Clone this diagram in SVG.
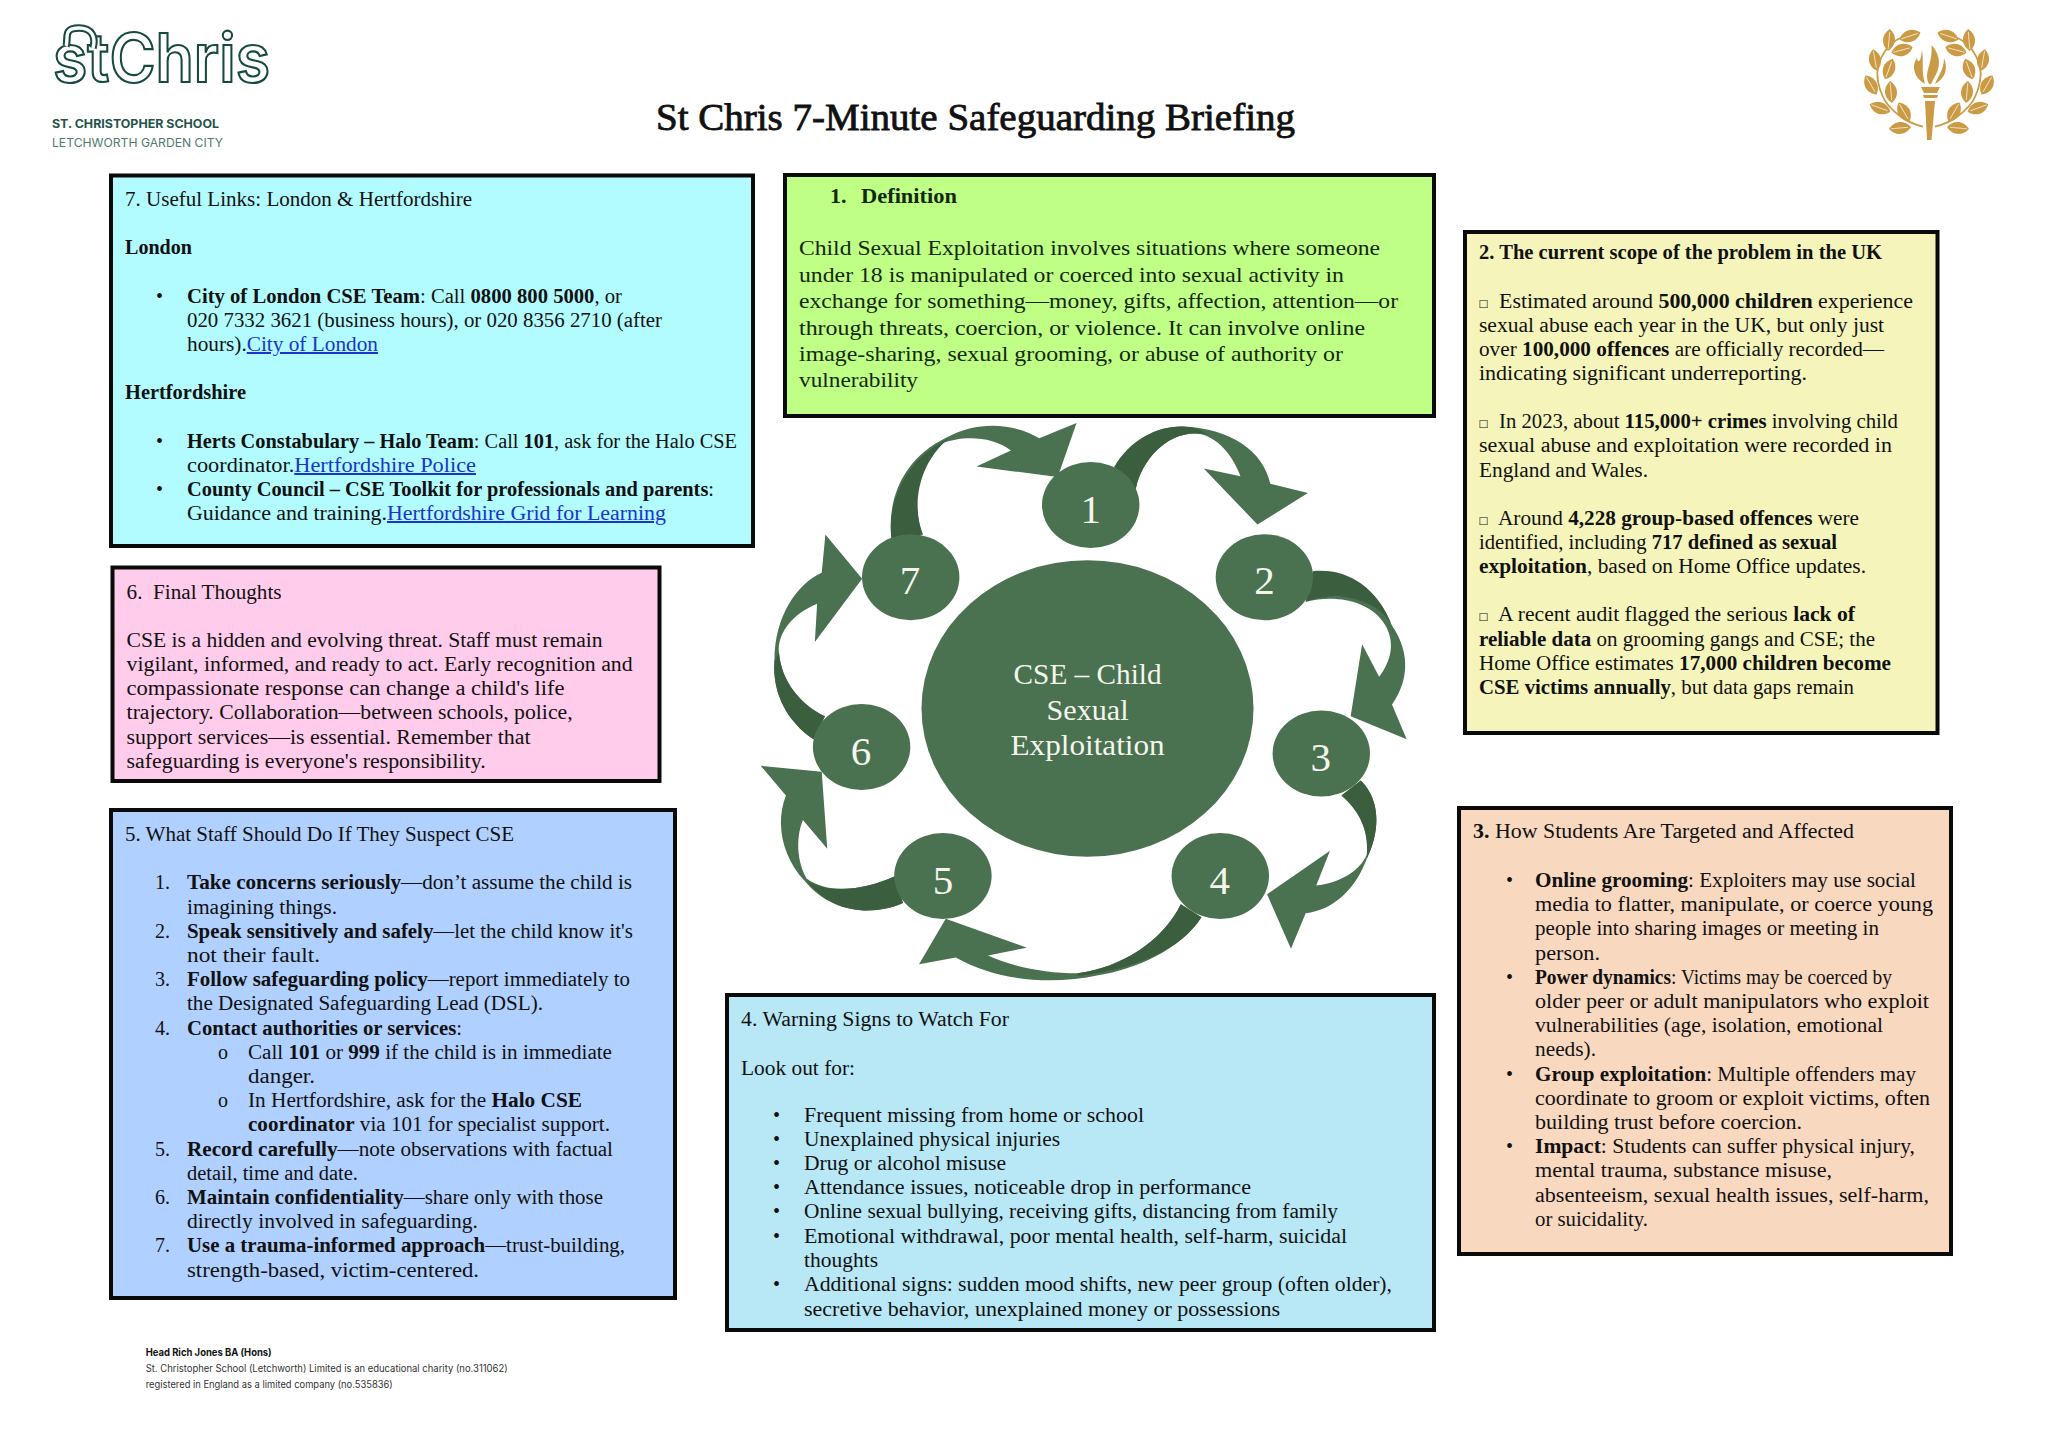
<svg xmlns="http://www.w3.org/2000/svg" xmlns:xlink="http://www.w3.org/1999/xlink" width="2048" height="1447" viewBox="0 0 2048 1447">
<style>
text{font-family:"Liberation Serif",serif;fill:#111}
.t{font-size:20px}
.d{font-size:22px;fill:#14280f}
.b{font-weight:bold}
.l{fill:#1a35c9;text-decoration:underline}
.box{stroke:#0a0a0a;stroke-width:4}
.arrow{fill:#4a7150}
.shade{fill:#3b5f3e}
.node{fill:#4a7150}
.num{font-size:41px;fill:#f4f6ee;text-anchor:middle}
.ctr{font-size:29px;fill:#f4f6ee;text-anchor:middle}
.sans{font-family:Inter,"Liberation Sans",sans-serif}
.gold{fill:#cb9a45}
.tofu{font-family:"DejaVu Sans",sans-serif;font-size:10.5px}
</style>
<defs>
<g id="leaf"><path class="gold" d="M-11,0 C-5,-8 5,-8 11,0 C5,8 -5,8 -11,0Z"/><path d="M-9,0 L8,0" stroke="#f7ecd6" stroke-width="0.8" fill="none"/></g>
<g id="branch">
<path d="M1923,126.7 C1912,124 1905,120 1900,116 C1892,110 1886,104 1883,97 C1878,86 1876,77 1878,67 C1880,58 1884,52 1888,47 C1892,43 1897,39 1903,37" fill="none" stroke="#cb9a45" stroke-width="1.8"/>
<use xlink:href="#leaf" href="#leaf" transform="translate(1889,40) rotate(-85)"/>
<use xlink:href="#leaf" href="#leaf" transform="translate(1910,36) rotate(-18)"/>
<use xlink:href="#leaf" href="#leaf" transform="translate(1902,50) rotate(-15)"/>
<use xlink:href="#leaf" href="#leaf" transform="translate(1875,60) rotate(80)"/>
<use xlink:href="#leaf" href="#leaf" transform="translate(1889,69) rotate(-70)"/>
<use xlink:href="#leaf" href="#leaf" transform="translate(1871,85) rotate(60)"/>
<use xlink:href="#leaf" href="#leaf" transform="translate(1891,92) rotate(85)"/>
<use xlink:href="#leaf" href="#leaf" transform="translate(1880,108) rotate(20)"/>
<use xlink:href="#leaf" href="#leaf" transform="translate(1904,112) rotate(60)"/>
<use xlink:href="#leaf" href="#leaf" transform="translate(1900,128) rotate(-5)"/>
</g>
</defs>
<rect width="2048" height="1447" fill="#fff"/>

<g id="logo">
<text class="sans" x="53" y="82" font-size="67" font-weight="600" textLength="217" lengthAdjust="spacingAndGlyphs" style="fill:#fff;stroke:#16493f;stroke-width:2.2">stChris</text>
<path d="M66,46 C69,39 62,28 79,28 C92,28 96,37 93,48" fill="none" stroke="#16493f" stroke-width="7.5"/>
<path d="M66,46 C69,39 62,28 79,28 C92,28 96,37 93,48" fill="none" stroke="#fff" stroke-width="3.4"/>
<text class="sans b" x="52" y="128" font-size="11.5" textLength="167" lengthAdjust="spacingAndGlyphs" style="fill:#24524a">ST. CHRISTOPHER SCHOOL</text>
<text class="sans" x="52" y="147" font-size="11.5" textLength="171" lengthAdjust="spacingAndGlyphs" style="fill:#4f7a6e">LETCHWORTH GARDEN CITY</text>
</g>

<g id="crest">
<use xlink:href="#branch" href="#branch"/>
<use xlink:href="#branch" href="#branch" transform="translate(3858,0) scale(-1,1)"/>
<path class="gold" d="M1925,84 C1914,78 1911,66 1917,58 C1918,64 1921,62 1922,50 C1924,60 1921,70 1925,84Z"/>
<path class="gold" d="M1929,84 C1923,72 1933,65 1931.5,45 C1941,55 1941,68 1934,78 L1931,84Z"/>
<path class="gold" d="M1935,84 C1938,76 1944,70 1944,58 C1948,68 1946,78 1935,84Z"/>
<path class="gold" d="M1921,87 L1940,87 L1937,93 L1924,93Z"/>
<path class="gold" d="M1923,95 L1938,95 L1937,98 L1924,98Z"/>
<path class="gold" d="M1925,101 L1935,101 L1931.5,140 L1927,140Z"/>
</g>

<text id="title" x="656" y="129.5" font-size="37" textLength="639" lengthAdjust="spacingAndGlyphs" style="stroke:#111;stroke-width:0.8">St Chris 7-Minute Safeguarding Briefing</text>

<g id="connectors" transform="translate(740,400) scale(0.45914,0.39541)">
<path class="arrow" d="M815,170 C850,100 910,65 965,67 C1070,72 1140,130 1155,212 L1237,235 L1127,315 L1010,173 L1090,193 C1070,130 1030,85 990,85 C930,85 875,150 862,225Z"/>
<path class="shade" d="M815,170 C850,100 910,65 965,67 Q1000,68 1018,88 Q1005,84 990,85 C930,85 875,150 862,225Z"/>
<path class="arrow" d="M1248,433 C1320,425 1390,480 1420,570 C1455,630 1462,700 1420,770 L1452,858 L1330,800 L1355,618 L1392,700 C1425,650 1425,600 1400,560 C1370,510 1300,490 1232,510Z"/>
<path class="shade" d="M1248,433 C1320,425 1385,470 1418,565 Q1385,505 1300,495 Q1260,498 1232,510Z"/>
<path class="arrow" d="M1352,962 C1395,1010 1395,1090 1365,1160 C1340,1240 1290,1290 1232,1298 L1200,1388 L1148,1250 L1285,1140 L1255,1228 C1310,1220 1350,1190 1365,1150 C1370,1090 1350,1040 1310,1000Z"/>
<path class="shade" d="M1352,962 C1395,1010 1395,1090 1365,1160 C1372,1090 1350,1040 1310,1000Z"/>
<path class="arrow" d="M1005,1308 C960,1390 860,1440 780,1455 C680,1480 560,1470 470,1410 L390,1427 L448,1312 L625,1385 L540,1405 C585,1430 660,1450 735,1450 C830,1435 920,1370 960,1275Z"/>
<path class="shade" d="M1005,1308 C960,1390 860,1440 735,1456 L735,1450 C830,1435 920,1370 960,1275Z"/>
<path class="arrow" d="M355,1272 C290,1305 200,1300 140,1215 C95,1160 75,1075 100,1000 L45,925 L178,940 L190,1135 L137,1062 C120,1110 125,1170 145,1210 C190,1250 270,1240 336,1205Z"/>
<path class="shade" d="M355,1272 C290,1305 200,1300 145,1215 C190,1250 270,1240 336,1205Z"/>
<path class="arrow" d="M160,858 C105,815 70,745 75,660 C75,545 125,465 178,437 L186,340 L266,452 L163,612 L168,515 C115,540 80,590 85,640 C90,710 130,770 185,800Z"/>
<path class="shade" d="M160,858 C105,815 70,745 75,660 L85,640 C90,710 130,770 185,800Z"/>
<path class="arrow" d="M330,352 C320,260 350,150 450,95 C520,50 600,60 652,97 L733,58 L692,195 L515,168 L590,128 C550,90 480,90 440,110 C380,170 375,270 398,340Z"/>
<path class="shade" d="M330,352 C320,260 360,150 455,97 C385,165 375,270 398,340Z"/>
</g>

<g id="node-center"><ellipse class="node" cx="1087.5" cy="708.5" rx="166" ry="148.3"/>
<text class="ctr" x="1087.6" y="683.5" textLength="148" lengthAdjust="spacingAndGlyphs">CSE – Child</text>
<text class="ctr" x="1087.6" y="719.5" textLength="82" lengthAdjust="spacingAndGlyphs">Sexual</text>
<text class="ctr" x="1087.6" y="754.5" textLength="154" lengthAdjust="spacingAndGlyphs">Exploitation</text></g>
<g id="node-c1"><ellipse class="node" cx="1090.7" cy="505" rx="48.7" ry="43"/><text class="num" x="1090.8" y="522.6">1</text></g>
<g id="node-c2"><ellipse class="node" cx="1264.4" cy="577.3" rx="48.7" ry="43"/><text class="num" x="1264.5" y="593.8">2</text></g>
<g id="node-c3"><ellipse class="node" cx="1321.3" cy="753.5" rx="48.7" ry="43"/><text class="num" x="1320.8" y="771">3</text></g>
<g id="node-c4"><ellipse class="node" cx="1220.3" cy="876" rx="48.7" ry="43"/><text class="num" x="1219.8" y="893.5">4</text></g>
<g id="node-c5"><ellipse class="node" cx="942.9" cy="876" rx="48.7" ry="43"/><text class="num" x="943" y="893.5">5</text></g>
<g id="node-c6"><ellipse class="node" cx="861.6" cy="747" rx="48.7" ry="43"/><text class="num" x="861" y="764.6">6</text></g>
<g id="node-c7"><ellipse class="node" cx="910.7" cy="577.3" rx="48.7" ry="43"/><text class="num" x="910" y="593.8">7</text></g>

<g id="box-7">
<rect class="box" x="111" y="175.5" width="642" height="370.5" fill="#b2fbff"/>
<text class="t" x="125" y="206" textLength="347" lengthAdjust="spacingAndGlyphs">7. Useful Links: London &amp; Hertfordshire</text>
<text class="t b" x="125" y="254" textLength="67" lengthAdjust="spacingAndGlyphs">London</text>
<text class="t" x="156" y="303">•</text>
<text class="t" x="187" y="303" textLength="435" lengthAdjust="spacingAndGlyphs"><tspan class="b">City of London CSE Team</tspan>: Call <tspan class="b">0800 800 5000</tspan>, or</text>
<text class="t" x="187" y="327" textLength="475" lengthAdjust="spacingAndGlyphs">020 7332 3621 (business hours), or 020 8356 2710 (after</text>
<text class="t" x="187" y="351" textLength="191" lengthAdjust="spacingAndGlyphs">hours).<tspan class="l">City of London</tspan></text>
<text class="t b" x="125" y="399" textLength="121" lengthAdjust="spacingAndGlyphs">Hertfordshire</text>
<text class="t" x="156" y="447.5">•</text>
<text class="t" x="187" y="447.5" textLength="550" lengthAdjust="spacingAndGlyphs"><tspan class="b">Herts Constabulary – Halo Team</tspan>: Call <tspan class="b">101</tspan>, ask for the Halo CSE</text>
<text class="t" x="187" y="472" textLength="289" lengthAdjust="spacingAndGlyphs">coordinator.<tspan class="l">Hertfordshire Police</tspan></text>
<text class="t" x="156" y="496">•</text>
<text class="t" x="187" y="496" textLength="527" lengthAdjust="spacingAndGlyphs"><tspan class="b">County Council – CSE Toolkit for professionals and parents</tspan>:</text>
<text class="t" x="187" y="520" textLength="479" lengthAdjust="spacingAndGlyphs">Guidance and training.<tspan class="l">Hertfordshire Grid for Learning</tspan></text>
</g>

<g id="box-1">
<rect class="box" x="785" y="175" width="649" height="241" fill="#bfff86"/>
<text class="d b" x="830" y="203">1.</text>
<text class="d b" x="861" y="203" textLength="96" lengthAdjust="spacingAndGlyphs">Definition</text>
<text class="d" x="799" y="255" textLength="581" lengthAdjust="spacingAndGlyphs">Child Sexual Exploitation involves situations where someone</text>
<text class="d" x="799" y="281.5" textLength="545" lengthAdjust="spacingAndGlyphs">under 18 is manipulated or coerced into sexual activity in</text>
<text class="d" x="799" y="308" textLength="599" lengthAdjust="spacingAndGlyphs">exchange for something—money, gifts, affection, attention—or</text>
<text class="d" x="799" y="334.5" textLength="566" lengthAdjust="spacingAndGlyphs">through threats, coercion, or violence. It can involve online</text>
<text class="d" x="799" y="361" textLength="544" lengthAdjust="spacingAndGlyphs">image-sharing, sexual grooming, or abuse of authority or</text>
<text class="d" x="799" y="387" textLength="119" lengthAdjust="spacingAndGlyphs">vulnerability</text>
</g>

<g id="box-2">
<rect class="box" x="1465" y="232" width="472.5" height="501" fill="#f5f5bb"/>
<text class="t b" x="1479" y="259" textLength="403" lengthAdjust="spacingAndGlyphs">2. The current scope of the problem in the UK</text>
<text class="tofu" x="1478.5" y="306.5">□</text>
<text class="t" x="1499" y="308" textLength="414" lengthAdjust="spacingAndGlyphs">Estimated around <tspan class="b">500,000 children</tspan> experience</text>
<text class="t" x="1479" y="332" textLength="405" lengthAdjust="spacingAndGlyphs">sexual abuse each year in the UK, but only just</text>
<text class="t" x="1479" y="356" textLength="405" lengthAdjust="spacingAndGlyphs">over <tspan class="b">100,000 offences</tspan> are officially recorded—</text>
<text class="t" x="1479" y="380" textLength="328" lengthAdjust="spacingAndGlyphs">indicating significant underreporting.</text>
<text class="tofu" x="1478.5" y="426.5">□</text>
<text class="t" x="1499" y="428" textLength="399" lengthAdjust="spacingAndGlyphs">In 2023, about <tspan class="b">115,000+ crimes</tspan> involving child</text>
<text class="t" x="1479" y="452.4" textLength="413" lengthAdjust="spacingAndGlyphs">sexual abuse and exploitation were recorded in</text>
<text class="t" x="1479" y="476.5" textLength="169" lengthAdjust="spacingAndGlyphs">England and Wales.</text>
<text class="tofu" x="1478.5" y="523.5">□</text>
<text class="t" x="1498" y="525" textLength="361" lengthAdjust="spacingAndGlyphs">Around <tspan class="b">4,228 group-based offences</tspan> were</text>
<text class="t" x="1479" y="549" textLength="358" lengthAdjust="spacingAndGlyphs">identified, including <tspan class="b">717 defined as sexual</tspan></text>
<text class="t" x="1479" y="573" textLength="387" lengthAdjust="spacingAndGlyphs"><tspan class="b">exploitation</tspan>, based on Home Office updates.</text>
<text class="tofu" x="1478.5" y="619.5">□</text>
<text class="t" x="1498" y="621" textLength="357" lengthAdjust="spacingAndGlyphs">A recent audit flagged the serious <tspan class="b">lack of</tspan></text>
<text class="t" x="1479" y="646" textLength="396" lengthAdjust="spacingAndGlyphs"><tspan class="b">reliable data</tspan> on grooming gangs and CSE; the</text>
<text class="t" x="1479" y="670" textLength="412" lengthAdjust="spacingAndGlyphs">Home Office estimates <tspan class="b">17,000 children become</tspan></text>
<text class="t" x="1479" y="694" textLength="375" lengthAdjust="spacingAndGlyphs"><tspan class="b">CSE victims annually</tspan>, but data gaps remain</text>
</g>

<g id="box-3" transform="translate(1,1)">
<rect class="box" x="1458" y="807" width="492" height="446" fill="#f9d8c0"/>
<text class="t" x="1472" y="837.4" textLength="381" lengthAdjust="spacingAndGlyphs"><tspan class="b">3.</tspan> How Students Are Targeted and Affected</text>
<text class="t" x="1505" y="886">•</text>
<text class="t" x="1534" y="886" textLength="381" lengthAdjust="spacingAndGlyphs"><tspan class="b">Online grooming</tspan>: Exploiters may use social</text>
<text class="t" x="1534" y="910.2" textLength="398" lengthAdjust="spacingAndGlyphs">media to flatter, manipulate, or coerce young</text>
<text class="t" x="1534" y="934.4" textLength="344" lengthAdjust="spacingAndGlyphs">people into sharing images or meeting in</text>
<text class="t" x="1534" y="958.6" textLength="65" lengthAdjust="spacingAndGlyphs">person.</text>
<text class="t" x="1505" y="982.8">•</text>
<text class="t" x="1534" y="982.8" textLength="357" lengthAdjust="spacingAndGlyphs"><tspan class="b">Power dynamics</tspan>: Victims may be coerced by</text>
<text class="t" x="1534" y="1007" textLength="394" lengthAdjust="spacingAndGlyphs">older peer or adult manipulators who exploit</text>
<text class="t" x="1534" y="1031.2" textLength="348" lengthAdjust="spacingAndGlyphs">vulnerabilities (age, isolation, emotional</text>
<text class="t" x="1534" y="1055.4" textLength="61" lengthAdjust="spacingAndGlyphs">needs).</text>
<text class="t" x="1505" y="1079.6">•</text>
<text class="t" x="1534" y="1079.6" textLength="381" lengthAdjust="spacingAndGlyphs"><tspan class="b">Group exploitation</tspan>: Multiple offenders may</text>
<text class="t" x="1534" y="1103.8" textLength="395" lengthAdjust="spacingAndGlyphs">coordinate to groom or exploit victims, often</text>
<text class="t" x="1534" y="1128" textLength="267" lengthAdjust="spacingAndGlyphs">building trust before coercion.</text>
<text class="t" x="1505" y="1152.2">•</text>
<text class="t" x="1534" y="1152.2" textLength="380" lengthAdjust="spacingAndGlyphs"><tspan class="b">Impact</tspan>: Students can suffer physical injury,</text>
<text class="t" x="1534" y="1176.4" textLength="297" lengthAdjust="spacingAndGlyphs">mental trauma, substance misuse,</text>
<text class="t" x="1534" y="1200.6" textLength="394" lengthAdjust="spacingAndGlyphs">absenteeism, sexual health issues, self-harm,</text>
<text class="t" x="1534" y="1224.8" textLength="113" lengthAdjust="spacingAndGlyphs">or suicidality.</text>
</g>

<g id="box-4" transform="translate(1,1)">
<rect class="box" x="726" y="994" width="707" height="335" fill="#b8e8f6"/>
<text class="t" x="740" y="1025" textLength="268" lengthAdjust="spacingAndGlyphs">4. Warning Signs to Watch For</text>
<text class="t" x="740" y="1073.6" textLength="114" lengthAdjust="spacingAndGlyphs">Look out for:</text>
<text class="t" x="772" y="1120.6">•</text>
<text class="t" x="803" y="1120.6" textLength="340" lengthAdjust="spacingAndGlyphs">Frequent missing from home or school</text>
<text class="t" x="772" y="1144.8">•</text>
<text class="t" x="803" y="1144.8" textLength="256" lengthAdjust="spacingAndGlyphs">Unexplained physical injuries</text>
<text class="t" x="772" y="1169">•</text>
<text class="t" x="803" y="1169" textLength="202" lengthAdjust="spacingAndGlyphs">Drug or alcohol misuse</text>
<text class="t" x="772" y="1193.2">•</text>
<text class="t" x="803" y="1193.2" textLength="447" lengthAdjust="spacingAndGlyphs">Attendance issues, noticeable drop in performance</text>
<text class="t" x="772" y="1217.4">•</text>
<text class="t" x="803" y="1217.4" textLength="534" lengthAdjust="spacingAndGlyphs">Online sexual bullying, receiving gifts, distancing from family</text>
<text class="t" x="772" y="1241.6">•</text>
<text class="t" x="803" y="1241.6" textLength="543" lengthAdjust="spacingAndGlyphs">Emotional withdrawal, poor mental health, self-harm, suicidal</text>
<text class="t" x="803" y="1265.8" textLength="74" lengthAdjust="spacingAndGlyphs">thoughts</text>
<text class="t" x="772" y="1290">•</text>
<text class="t" x="803" y="1290" textLength="588" lengthAdjust="spacingAndGlyphs">Additional signs: sudden mood shifts, new peer group (often older),</text>
<text class="t" x="803" y="1314.5" textLength="476" lengthAdjust="spacingAndGlyphs">secretive behavior, unexplained money or possessions</text>
</g>

<g id="box-5" transform="translate(0,1)">
<rect class="box" x="111" y="809" width="564" height="488" fill="#b0d0ff"/>
<text class="t" x="125" y="840" textLength="389" lengthAdjust="spacingAndGlyphs">5. What Staff Should Do If They Suspect CSE</text>
<text class="t" x="155" y="888.3">1.</text>
<text class="t" x="187" y="888.3" textLength="445" lengthAdjust="spacingAndGlyphs"><tspan class="b">Take concerns seriously</tspan>—don’t assume the child is</text>
<text class="t" x="187" y="912.5" textLength="150" lengthAdjust="spacingAndGlyphs">imagining things.</text>
<text class="t" x="155" y="936.7">2.</text>
<text class="t" x="187" y="936.7" textLength="446" lengthAdjust="spacingAndGlyphs"><tspan class="b">Speak sensitively and safely</tspan>—let the child know it's</text>
<text class="t" x="187" y="960.9" textLength="133" lengthAdjust="spacingAndGlyphs">not their fault.</text>
<text class="t" x="155" y="985.1">3.</text>
<text class="t" x="187" y="985.1" textLength="443" lengthAdjust="spacingAndGlyphs"><tspan class="b">Follow safeguarding policy</tspan>—report immediately to</text>
<text class="t" x="187" y="1009.3" textLength="356" lengthAdjust="spacingAndGlyphs">the Designated Safeguarding Lead (DSL).</text>
<text class="t" x="155" y="1033.5">4.</text>
<text class="t" x="187" y="1033.5" textLength="275" lengthAdjust="spacingAndGlyphs"><tspan class="b">Contact authorities or services</tspan>:</text>
<text class="t" x="218" y="1057.7">o</text>
<text class="t" x="248" y="1057.7" textLength="364" lengthAdjust="spacingAndGlyphs">Call <tspan class="b">101</tspan> or <tspan class="b">999</tspan> if the child is in immediate</text>
<text class="t" x="248" y="1081.9" textLength="67" lengthAdjust="spacingAndGlyphs">danger.</text>
<text class="t" x="218" y="1106.1">o</text>
<text class="t" x="248" y="1106.1" textLength="334" lengthAdjust="spacingAndGlyphs">In Hertfordshire, ask for the <tspan class="b">Halo CSE</tspan></text>
<text class="t" x="248" y="1130.3" textLength="362" lengthAdjust="spacingAndGlyphs"><tspan class="b">coordinator</tspan> via 101 for specialist support.</text>
<text class="t" x="155" y="1154.5">5.</text>
<text class="t" x="187" y="1154.5" textLength="426" lengthAdjust="spacingAndGlyphs"><tspan class="b">Record carefully</tspan>—note observations with factual</text>
<text class="t" x="187" y="1178.7" textLength="171" lengthAdjust="spacingAndGlyphs">detail, time and date.</text>
<text class="t" x="155" y="1202.9">6.</text>
<text class="t" x="187" y="1202.9" textLength="416" lengthAdjust="spacingAndGlyphs"><tspan class="b">Maintain confidentiality</tspan>—share only with those</text>
<text class="t" x="187" y="1227.1" textLength="291" lengthAdjust="spacingAndGlyphs">directly involved in safeguarding.</text>
<text class="t" x="155" y="1251.3">7.</text>
<text class="t" x="187" y="1251.3" textLength="438" lengthAdjust="spacingAndGlyphs"><tspan class="b">Use a trauma-informed approach</tspan>—trust-building,</text>
<text class="t" x="187" y="1275.5" textLength="292" lengthAdjust="spacingAndGlyphs">strength-based, victim-centered.</text>
</g>

<g id="box-6">
<rect class="box" x="112.5" y="567.5" width="547" height="213.5" fill="#ffcceb"/>
<text class="t" x="126.6" y="598.5" textLength="155" lengthAdjust="spacingAndGlyphs" xml:space="preserve">6.  Final Thoughts</text>
<text class="t" x="126.6" y="646.8" textLength="476" lengthAdjust="spacingAndGlyphs">CSE is a hidden and evolving threat. Staff must remain</text>
<text class="t" x="126.6" y="671" textLength="506" lengthAdjust="spacingAndGlyphs">vigilant, informed, and ready to act. Early recognition and</text>
<text class="t" x="126.6" y="695.2" textLength="438" lengthAdjust="spacingAndGlyphs">compassionate response can change a child's life</text>
<text class="t" x="126.6" y="719.4" textLength="446" lengthAdjust="spacingAndGlyphs">trajectory. Collaboration—between schools, police,</text>
<text class="t" x="126.6" y="743.6" textLength="404" lengthAdjust="spacingAndGlyphs">support services—is essential. Remember that</text>
<text class="t" x="126.6" y="768" textLength="359" lengthAdjust="spacingAndGlyphs">safeguarding is everyone's responsibility.</text>
</g>

<g id="footer">
<text class="sans b" x="145.7" y="1356" font-size="10" textLength="126" lengthAdjust="spacingAndGlyphs">Head Rich Jones BA (Hons)</text>
<text class="sans" x="145.7" y="1371.7" font-size="10" textLength="362" lengthAdjust="spacingAndGlyphs" style="fill:#333">St. Christopher School (Letchworth) Limited is an educational charity (no.311062)</text>
<text class="sans" x="145.7" y="1387.7" font-size="10" textLength="247" lengthAdjust="spacingAndGlyphs" style="fill:#333">registered in England as a limited company (no.535836)</text>
</g>
</svg>
